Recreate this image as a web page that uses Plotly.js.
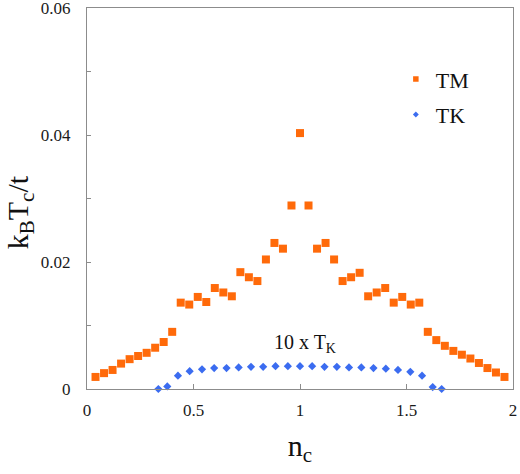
<!DOCTYPE html>
<html>
<head>
<meta charset="utf-8">
<script src="https://cdn.plot.ly/plotly-3.0.1.min.js"></script>
<style>html,body{margin:0;padding:0;background:#fff;}#chart{width:520px;height:474px;}</style>
</head>
<body>
<div id="chart"></div>
<script>
// TM series (x = carrier density n_c, y = k_B T_c / t)
const tmX = [0.04,0.08,0.12,0.16,0.20,0.24,0.28,0.32,0.36,0.40,0.44,0.48,0.52,0.56,0.60,0.64,0.68,0.72,0.76,0.80,0.84,0.88,0.92,0.96,1.00,
             1.04,1.08,1.12,1.16,1.20,1.24,1.28,1.32,1.36,1.40,1.44,1.48,1.52,1.56,1.60,1.64,1.68,1.72,1.76,1.80,1.84,1.88,1.92,1.96];
const tmY = [0.0019,0.0025,0.0030,0.0040,0.0047,0.0052,0.0057,0.0065,0.0074,0.0090,0.0136,0.0133,0.0145,0.0137,0.0159,0.0152,0.0146,0.0184,0.0176,0.0170,0.0204,0.0230,0.0221,0.0289,0.0403,
             0.0289,0.0221,0.0230,0.0204,0.0170,0.0176,0.0183,0.0146,0.0152,0.0159,0.0136,0.0145,0.0133,0.0136,0.0090,0.0077,0.0068,0.0060,0.0054,0.0048,0.0041,0.0033,0.0026,0.0019];
// TK series (10 x T_K)
const tkX = [0.335,0.377,0.427,0.482,0.540,0.597,0.655,0.712,0.770,0.827,0.885,0.943,1.000,1.057,1.115,1.173,1.230,1.288,1.345,1.403,1.460,1.518,1.573,1.623,1.665];
const tkY = [0.0000,0.0004,0.0021,0.0028,0.0031,0.0033,0.0033,0.0034,0.0035,0.0035,0.0036,0.0036,0.0036,0.0036,0.0035,0.0035,0.0034,0.0034,0.0033,0.0032,0.0030,0.0027,0.0021,0.0003,0.0000];

const names = ['TM','TK'];
const xTicks = [0,0.5,1,1.5,2];
const xTickText = ['0','0.5','1','1.5','2'];
const yTicks = [0,0.02,0.04,0.06];
const yTickText = ['0','0.02','0.04','0.06'];
const xTitle = 'n<sub>c</sub>';
const yTitle = 'k<sub>B</sub>T<sub>c</sub>/t';
const noteText = '10 x T<sub>K</sub>';

const ORANGE = '#FF6A0A';
const BLUE = '#3B6CF0';
const SERIF = 'Liberation Serif';
const legendFont = {family: SERIF, size: 22, color: '#111'};

const traces = [
  {x: tmX, y: tmY, mode: 'markers', type: 'scatter', name: names[0], showlegend: false,
   marker: {symbol: 'square', size: 8, color: ORANGE}, cliponaxis: false},
  {x: tkX, y: tkY, mode: 'markers', type: 'scatter', name: names[1], showlegend: false,
   marker: {symbol: 'diamond', size: 6.3, color: BLUE}, cliponaxis: false},
  // legend entries (no data, smaller symbols like the reference)
  {x: [null], y: [null], mode: 'markers', type: 'scatter', name: names[0], legend: 'legend',
   marker: {symbol: 'square', size: 5.5, color: ORANGE}},
  {x: [null], y: [null], mode: 'markers', type: 'scatter', name: names[1], legend: 'legend2',
   marker: {symbol: 'diamond', size: 4.5, color: BLUE}}
];

const layout = {
  width: 520, height: 474,
  margin: {l: 87, r: 7, t: 7.5, b: 85},
  paper_bgcolor: '#fff', plot_bgcolor: '#fff',
  font: {family: SERIF, color: '#1a1a1a', size: 17},
  showlegend: true,
  legend: {x: 0.725, y: 0.868, xanchor: 'left', yanchor: 'top', bgcolor: 'rgba(0,0,0,0)', font: legendFont},
  legend2: {x: 0.725, y: 0.775, xanchor: 'left', yanchor: 'top', bgcolor: 'rgba(0,0,0,0)', font: legendFont},
  xaxis: {
    range: [0, 2], tickvals: xTicks, ticktext: xTickText,
    ticks: 'inside', ticklen: 5, tickcolor: '#8c8c8c', tickwidth: 1,
    showline: true, mirror: true, linecolor: '#8c8c8c', linewidth: 1,
    showgrid: false, zeroline: false, ticklabelstandoff: 6, ticklabeloverflow: 'allow',
    tickfont: {family: SERIF, size: 17, color: '#1a1a1a'},
    title: {text: xTitle, font: {family: SERIF, size: 30, color: '#111'}, standoff: 15}
  },
  yaxis: {
    range: [0, 0.06], tickvals: yTicks, ticktext: yTickText,
    ticks: 'inside', ticklen: 4, tickcolor: '#8c8c8c', tickwidth: 1,
    minor: {dtick: 0.01, ticks: 'inside', ticklen: 4, tickcolor: '#8c8c8c', showgrid: false},
    showline: true, mirror: true, linecolor: '#8c8c8c', linewidth: 1,
    showgrid: false, zeroline: false, ticklabelstandoff: 12, ticklabeloverflow: 'allow',
    tickfont: {family: SERIF, size: 17, color: '#1a1a1a'}
  },
  annotations: [
    {x: 1.025, y: 0.0072, xref: 'x', yref: 'y', text: noteText, showarrow: false,
     font: {family: SERIF, size: 20, color: '#111'}},
    {x: -0.158, y: 0.463, xref: 'paper', yref: 'paper', text: yTitle, textangle: -90, showarrow: false,
     xanchor: 'center', yanchor: 'middle',
     font: {family: SERIF, size: 30, color: '#111'}}
  ]
};

Plotly.newPlot('chart', traces, layout, {displayModeBar: false, staticPlot: true});
</script>
</body>
</html>
